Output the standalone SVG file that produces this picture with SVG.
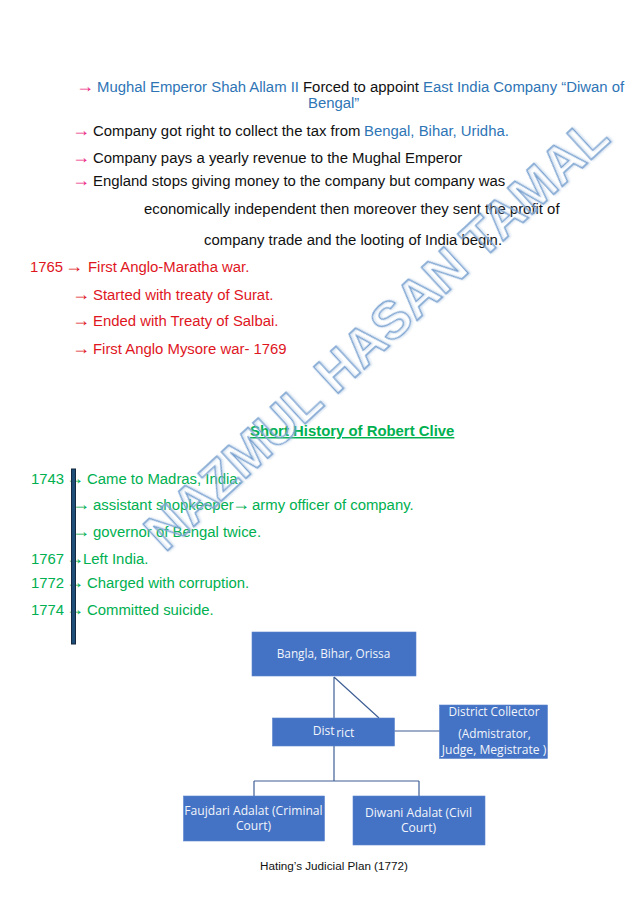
<svg xmlns="http://www.w3.org/2000/svg" width="638" height="902" viewBox="0 0 638 902">
<defs><filter id="soft" x="-5%" y="-5%" width="110%" height="110%"><feDropShadow dx="1" dy="1" stdDeviation="0.8" flood-color="#9dbbdc" flood-opacity="0.7"/></filter></defs>
<style>
text{font-family:"Liberation Sans",Arial,sans-serif;font-size:14.9px}
.k{fill:#111}.b{fill:#2e75b6}.p{fill:#ec2a83}.r{fill:#e0161e}.g{fill:#00b050}
.a{font-size:18px}
.n{fill:#4472c4;stroke:#5b83cc;stroke-width:.6}
.t{font-family:"Open Sans","Noto Sans",sans-serif;font-size:12.1px;fill:#f2f5fb;text-anchor:middle}
.c{fill:none;stroke:#3f5f95;stroke-width:1.2}
.w{font-weight:bold;font-size:51.8px;fill:none;stroke:#7aa2d0;stroke-width:1.3}
</style>
<rect width="638" height="902" fill="#fff"/>
<g id="text-top">
<text y="92"><tspan x="76" class="p a">→</tspan><tspan x="97" class="b">Mughal Emperor Shah Allam II </tspan><tspan x="303" class="k">Forced to appoint </tspan><tspan x="423" class="b">East India Company “Diwan of</tspan></text>
<text x="308" y="108" class="b">Bengal”</text>
<text y="136"><tspan x="72" class="p a">→</tspan><tspan x="93" class="k">Company got right to collect the tax from </tspan><tspan x="364" class="b">Bengal, Bihar, Uridha.</tspan></text>
<text y="163"><tspan x="72" class="p a">→</tspan><tspan x="93" class="k">Company pays a yearly revenue to the Mughal Emperor</tspan></text>
<text y="186"><tspan x="72" class="p a">→</tspan><tspan x="93" class="k">England stops giving money to the company but company was</tspan></text>
<text x="144" y="214" class="k">economically independent then moreover they sent the profit of</text>
<text x="204" y="245" class="k">company trade and the looting of India begin.</text>
</g>
<g id="text-red" class="r">
<text y="272"><tspan x="30">1765</tspan><tspan x="65" class="a">→</tspan><tspan x="88">First Anglo-Maratha war.</tspan></text>
<text y="300"><tspan x="72" class="a">→</tspan><tspan x="93">Started with treaty of Surat.</tspan></text>
<text y="326"><tspan x="72" class="a">→</tspan><tspan x="93">Ended with Treaty of Salbai.</tspan></text>
<text y="354"><tspan x="72" class="a">→</tspan><tspan x="93">First Anglo Mysore war- 1769</tspan></text>
</g>
<g id="text-green" class="g">
<text x="250" y="436" font-weight="bold" text-decoration="underline">Short History of Robert Clive</text>
<text y="484"><tspan x="31">1743</tspan><tspan x="66" class="a">→</tspan><tspan x="87">Came to Madras, India.</tspan></text>
<text y="510"><tspan x="72" class="a">→</tspan><tspan x="93">assistant shopkeeper</tspan><tspan x="232" class="a">→</tspan><tspan x="252">army officer of company.</tspan></text>
<text y="537"><tspan x="72" class="a">→</tspan><tspan x="93">governor of Bengal twice.</tspan></text>
<text y="564"><tspan x="31">1767</tspan><tspan x="66" class="a">→</tspan><tspan x="83">Left India.</tspan></text>
<text y="588"><tspan x="31">1772</tspan><tspan x="66" class="a">→</tspan><tspan x="87">Charged with corruption.</tspan></text>
<text y="615"><tspan x="31">1774</tspan><tspan x="66" class="a">→</tspan><tspan x="87">Committed suicide.</tspan></text>
</g>
<g id="timeline-bar"><rect x="71.500" y="469" width="4" height="175" fill="#1f4e79" stroke="#14293f" stroke-width="1"/></g>
<g id="watermark">
<text class="w" filter="url(#soft)" transform="translate(165 553) rotate(-42.7)">NAZMUL HASAN TAMAL</text>
</g>
<g id="connectors">
<path class="c" d="M334 677V718M334 677L379 718M334 746V781M254 781H419M254 781V796M419 781V796M394 731H440"/>
</g>
<g id="node-bangla"><rect class="n" x="252" y="632" width="164" height="44"/><text class="t" style="font-size:11.8px" x="333.500" y="657.500">Bangla, Bihar, Orissa</text></g>
<g id="node-district"><rect class="n" x="272.500" y="718" width="122" height="28"/><text class="t" x="333.500" y="735"><tspan>Dist</tspan><tspan dx="1.500" dy="2">rict</tspan></text></g>
<g id="node-collector"><rect class="n" x="439.500" y="705" width="108" height="53.500"/><text class="t" style="font-size:11.8px" x="494" y="716">District Collector</text><text class="t" style="font-size:11.8px" x="494.500" y="737.500">(Admistrator,</text><text class="t" x="494" y="753.500">Judge, Megistrate )</text></g>
<g id="node-faujdari"><rect class="n" x="183.500" y="796" width="141" height="45"/><text class="t" x="253.500" y="814.500">Faujdari Adalat (Criminal</text><text class="t" x="253.500" y="829.500">Court)</text></g>
<g id="node-diwani"><rect class="n" x="353" y="796" width="132" height="49"/><text class="t" x="418.500" y="816.500">Diwani Adalat (Civil</text><text class="t" x="418.500" y="831.500">Court)</text></g>
<g id="caption"><text x="260" y="869.500" style="font-size:11.7px" class="k">Hating’s Judicial Plan (1772)</text></g>
</svg>
